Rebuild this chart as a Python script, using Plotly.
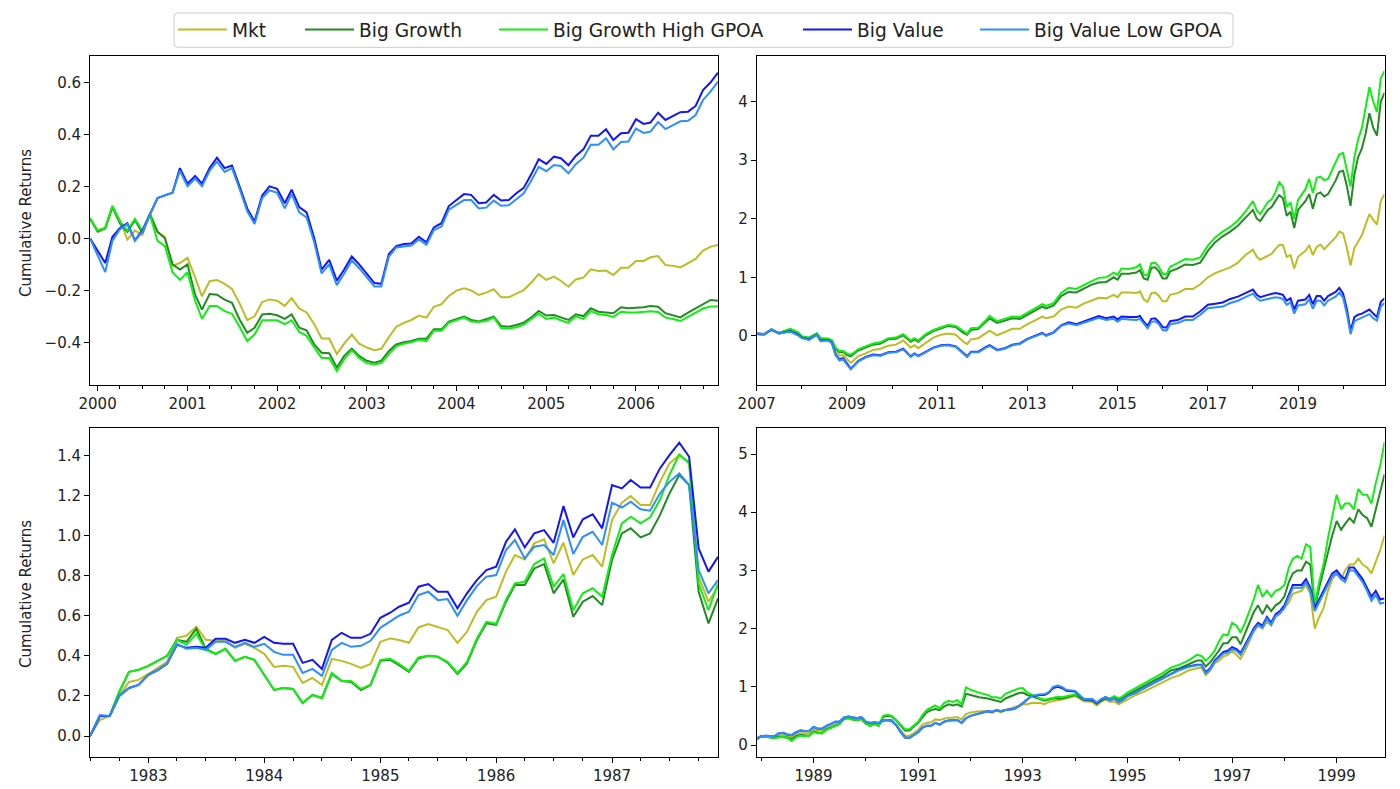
import pandas as pd
import plotly.graph_objects as go

SERIES = ["Mkt", "Big Growth", "Big Growth High GPOA", "Big Value", "Big Value Low GPOA"]
COLORS = ["#bcbd22", "#228b22", "#11ee11", "#1414ff", "#2b8fff"]

# ---------------- Panel 1 (top-left): monthly, 1999-12 .. 2006-12 ----------------
TL_START = "1999-12-01"
TL_MKT = [0.075, 0.03, 0.04, 0.12, 0.07, -0.005, 0.03, 0.013, 0.095, 0.025,
          0.005, -0.105, -0.095, -0.075, -0.15, -0.223, -0.165, -0.16, -0.175, -0.195,
          -0.25, -0.315, -0.3, -0.245, -0.235, -0.24, -0.26, -0.23, -0.27, -0.285,
          -0.33, -0.385, -0.385, -0.445, -0.405, -0.37, -0.405, -0.42, -0.43, -0.425,
          -0.38, -0.34,
          -0.325, -0.314, -0.297, -0.305, -0.263, -0.253, -0.222, -0.201, -0.192, -0.2,
          -0.218, -0.209, -0.196, -0.227, -0.227, -0.212, -0.199, -0.17, -0.138, -0.16,
          -0.147, -0.163, -0.186, -0.158, -0.151, -0.119, -0.126, -0.124, -0.141, -0.113,
          -0.113, -0.087, -0.087, -0.073, -0.068, -0.103, -0.106, -0.112, -0.096, -0.079,
          -0.047, -0.032, -0.026]
TL_BG = [0.077, 0.025, 0.038, 0.12, 0.057, 0.025, 0.07, 0.02, 0.093, 0.025,
         0.0, -0.1, -0.12, -0.1, -0.217, -0.274, -0.214, -0.217, -0.236, -0.248,
         -0.312, -0.363, -0.344, -0.293, -0.29, -0.296, -0.31, -0.293, -0.344, -0.354,
         -0.408, -0.44, -0.442, -0.497, -0.452, -0.424, -0.452, -0.471, -0.478, -0.471,
         -0.433, -0.408,
         -0.4, -0.395, -0.386, -0.386, -0.35, -0.35, -0.32, -0.309, -0.301, -0.314,
         -0.32, -0.311, -0.301, -0.337, -0.34, -0.333, -0.324, -0.304, -0.279, -0.297,
         -0.295, -0.304, -0.314, -0.292, -0.299, -0.269, -0.282, -0.285, -0.288, -0.265,
         -0.269, -0.267, -0.265, -0.26, -0.263, -0.288, -0.295, -0.304, -0.286, -0.269,
         -0.253, -0.237, -0.24]
TL_BGH = [0.077, 0.03, 0.04, 0.125, 0.065, 0.03, 0.075, 0.03, 0.09, -0.01,
          -0.03, -0.13, -0.16, -0.13, -0.24, -0.31, -0.26, -0.26, -0.28, -0.29,
          -0.34, -0.395, -0.37, -0.315, -0.315, -0.315, -0.33, -0.315, -0.36, -0.375,
          -0.42, -0.46, -0.46, -0.51, -0.465, -0.43, -0.46, -0.48, -0.485, -0.48,
          -0.445, -0.415,
          -0.405, -0.4, -0.39, -0.395, -0.355, -0.355, -0.325, -0.315, -0.305, -0.32,
          -0.322, -0.318, -0.305, -0.345, -0.347, -0.342, -0.332, -0.31, -0.29, -0.31,
          -0.305, -0.315, -0.325, -0.3, -0.31, -0.28, -0.292, -0.295, -0.302, -0.282,
          -0.285, -0.285, -0.283, -0.28, -0.283, -0.305, -0.31, -0.318, -0.302, -0.285,
          -0.27, -0.262, -0.262]
TL_BV = [0.0, -0.045, -0.095, 0.005, 0.04, 0.058, -0.008, 0.03, 0.095, 0.155,
         0.165, 0.175, 0.27, 0.21, 0.24, 0.21, 0.27, 0.31, 0.27, 0.28,
         0.2, 0.115, 0.065, 0.165, 0.2, 0.19, 0.135, 0.187, 0.12, 0.1,
         0.0, -0.12, -0.083, -0.163, -0.12, -0.07, -0.1, -0.136, -0.172, -0.175,
         -0.06, -0.03,
         -0.022, -0.02, 0.006, -0.015, 0.042, 0.058, 0.124, 0.147, 0.17, 0.167,
         0.135, 0.138, 0.167, 0.145, 0.147, 0.173, 0.194, 0.247, 0.304, 0.286,
         0.314, 0.308, 0.281, 0.317, 0.342, 0.394, 0.394, 0.419, 0.378, 0.404,
         0.406, 0.458, 0.44, 0.445, 0.483, 0.455, 0.47, 0.485, 0.487, 0.509,
         0.57, 0.6, 0.637]
TL_BVL = [0.0, -0.065, -0.13, -0.01, 0.035, 0.055, -0.01, 0.025, 0.09, 0.155,
          0.165, 0.175, 0.26, 0.2, 0.23, 0.2, 0.26, 0.295, 0.255, 0.27,
          0.19, 0.105, 0.055, 0.155, 0.185, 0.175, 0.115, 0.17, 0.1, 0.08,
          -0.015, -0.135, -0.1, -0.18, -0.135, -0.085, -0.115, -0.15, -0.185, -0.185,
          -0.07, -0.035,
          -0.03, -0.028, -0.004, -0.025, 0.032, 0.045, 0.11, 0.13, 0.147, 0.147,
          0.115, 0.118, 0.145, 0.125, 0.127, 0.15, 0.173, 0.222, 0.275, 0.258,
          0.282, 0.278, 0.25, 0.285, 0.31, 0.36, 0.36, 0.385, 0.342, 0.37,
          0.372, 0.422, 0.405, 0.41, 0.447, 0.42, 0.435, 0.45, 0.452, 0.474,
          0.532, 0.565, 0.603]

# ---------------- Panel 3 (bottom-left): monthly, 1982-07 .. 1987-12 ----------------
BL_START = "1982-07-01"
BL_MKT = [0.0, 0.08, 0.1, 0.2, 0.27, 0.28, 0.31, 0.34, 0.37, 0.49, 0.5, 0.545, 0.48,
          0.475, 0.475, 0.44, 0.46, 0.44, 0.41, 0.345, 0.35, 0.345, 0.265, 0.29, 0.255,
          0.385, 0.375, 0.36, 0.34, 0.36, 0.47, 0.487, 0.479,
          0.465, 0.542, 0.559, 0.545, 0.529, 0.465, 0.52, 0.62, 0.678, 0.695, 0.82,
          0.903, 0.881, 0.961, 0.981, 0.861, 0.964, 0.803, 0.881, 0.903, 0.845, 1.077,
          1.164, 1.197, 1.152, 1.152, 1.268, 1.36, 1.401, 1.368, 0.795, 0.67, 0.745]
BL_BG = [0.0, 0.1, 0.1, 0.22, 0.32, 0.33, 0.35, 0.375, 0.4, 0.48, 0.47, 0.535, 0.435,
         0.41, 0.435, 0.375, 0.395, 0.38, 0.305, 0.23, 0.24, 0.235, 0.165, 0.205, 0.19,
         0.31, 0.275, 0.27, 0.23, 0.255, 0.375, 0.38, 0.354,
         0.32, 0.387, 0.4, 0.396, 0.366, 0.309, 0.362, 0.479, 0.562, 0.554, 0.67,
         0.753, 0.753, 0.836, 0.858, 0.712, 0.781, 0.595, 0.67, 0.698, 0.653, 0.878,
         1.011, 1.036, 0.991, 1.011, 1.102, 1.21, 1.302, 1.252, 0.72, 0.562, 0.687]
BL_BGH = [0.0, 0.1, 0.1, 0.22, 0.32, 0.33, 0.35, 0.375, 0.4, 0.48, 0.455, 0.51, 0.43,
          0.41, 0.435, 0.375, 0.395, 0.38, 0.305, 0.23, 0.24, 0.235, 0.165, 0.205, 0.19,
          0.315, 0.275, 0.275, 0.235, 0.255, 0.38, 0.385, 0.36,
          0.325, 0.392, 0.4, 0.396, 0.37, 0.315, 0.37, 0.485, 0.57, 0.56, 0.68,
          0.761, 0.77, 0.858, 0.886, 0.745, 0.808, 0.628, 0.712, 0.737, 0.695, 0.903,
          1.061, 1.094, 1.061, 1.091, 1.177, 1.302, 1.405, 1.36, 0.761, 0.628, 0.761]
BL_BV = [0.0, 0.1, 0.1, 0.2, 0.24, 0.255, 0.305, 0.33, 0.36, 0.455, 0.44, 0.445, 0.44,
         0.485, 0.485, 0.465, 0.48, 0.465, 0.495, 0.465, 0.46, 0.46, 0.365, 0.38, 0.335,
         0.48, 0.515, 0.49, 0.49, 0.51, 0.59, 0.615, 0.645,
         0.665, 0.745, 0.758, 0.72, 0.72, 0.637, 0.712, 0.778, 0.828, 0.845, 0.969,
         1.031, 0.941, 1.011, 1.027, 0.964, 1.147, 0.991, 1.081, 1.106, 1.036, 1.252,
         1.235, 1.277, 1.24, 1.24, 1.335, 1.401, 1.463, 1.393, 0.936, 0.82, 0.894]
BL_BVL = [0.0, 0.105, 0.1, 0.2, 0.24, 0.255, 0.305, 0.33, 0.36, 0.46, 0.435, 0.44, 0.43,
          0.47, 0.47, 0.445, 0.465, 0.445, 0.46, 0.42, 0.405, 0.405, 0.315, 0.335, 0.3,
          0.43, 0.465, 0.445, 0.45, 0.475, 0.54, 0.57, 0.6,
          0.62, 0.703, 0.72, 0.678, 0.683, 0.6, 0.678, 0.748, 0.795, 0.803, 0.928,
          0.978, 0.886, 0.944, 0.953, 0.903, 1.077, 0.908, 0.994, 1.019, 0.953, 1.164,
          1.14, 1.169, 1.131, 1.124, 1.21, 1.268, 1.31, 1.252, 0.828, 0.712, 0.778]

# ---------------- Panel 2 (top-right): 2007-01 .. 2020-12 ----------------
TR_DATES = ["2007-01", "2007-03", "2007-05", "2007-07", "2007-09", "2007-10", "2007-12",
            "2008-01", "2008-03", "2008-05", "2008-06", "2008-08", "2008-09", "2008-10",
            "2008-11", "2008-12", "2009-01", "2009-02", "2009-03", "2009-04", "2009-06",
            "2009-08", "2009-10", "2009-12", "2010-02", "2010-04", "2010-06", "2010-07",
            "2010-08", "2010-10", "2010-12", "2011-02", "2011-04", "2011-06", "2011-08",
            "2011-09", "2011-10", "2011-12", "2012-02", "2012-03", "2012-05", "2012-07",
            "2012-09", "2012-11", "2013-01", "2013-03", "2013-05", "2013-06", "2013-08",
            "2013-10", "2013-12", "2014-02", "2014-04", "2014-06", "2014-08", "2014-10",
            "2014-12", "2015-01", "2015-02", "2015-04", "2015-06", "2015-07", "2015-08",
            "2015-09", "2015-10", "2015-11", "2015-12", "2016-01", "2016-02", "2016-03",
            "2016-05", "2016-07", "2016-09", "2016-11", "2017-01", "2017-03", "2017-05",
            "2017-07", "2017-09", "2017-11", "2018-01", "2018-02", "2018-03", "2018-05",
            "2018-06", "2018-07", "2018-08", "2018-09", "2018-10", "2018-11", "2018-12",
            "2019-01", "2019-03", "2019-04", "2019-05", "2019-06", "2019-07", "2019-08",
            "2019-09", "2019-11", "2019-12", "2020-01", "2020-02", "2020-03", "2020-04",
            "2020-05", "2020-06", "2020-07", "2020-08", "2020-09", "2020-10", "2020-11",
            "2020-12"]
TR_BV = [0.04, 0.03, 0.11, 0.04, 0.07, 0.08, 0.02, -0.03, -0.06, 0.02, -0.08, -0.07, -0.12,
         -0.32, -0.4, -0.38, -0.47, -0.56, -0.5, -0.43, -0.36, -0.32, -0.33, -0.28, -0.27,
         -0.22, -0.35, -0.3, -0.34, -0.27, -0.2, -0.16, -0.15, -0.18, -0.3, -0.35, -0.27,
         -0.27, -0.19, -0.16, -0.24, -0.21, -0.15, -0.13, -0.05, 0.0, 0.05, 0.01, 0.06,
         0.18, 0.23, 0.2, 0.25, 0.3, 0.34, 0.3, 0.33, 0.28, 0.33, 0.32, 0.32, 0.34, 0.24,
         0.17, 0.29, 0.3, 0.24, 0.15, 0.14, 0.25, 0.27, 0.33, 0.33, 0.42, 0.53, 0.55, 0.57,
         0.63, 0.67, 0.73, 0.79, 0.7, 0.66, 0.7, 0.72, 0.73, 0.72, 0.7, 0.6, 0.64, 0.45,
         0.6, 0.62, 0.7, 0.54, 0.68, 0.68, 0.6, 0.68, 0.75, 0.82, 0.72, 0.45, 0.08, 0.32,
         0.36, 0.38, 0.42, 0.45, 0.38, 0.32, 0.58, 0.64]
TR_BVL = [0.04, 0.03, 0.11, 0.04, 0.06, 0.07, 0.01, -0.04, -0.07, 0.02, -0.09, -0.08, -0.13,
          -0.33, -0.42, -0.4, -0.49, -0.57, -0.51, -0.44, -0.37, -0.33, -0.34, -0.29, -0.28,
          -0.23, -0.36, -0.31, -0.35, -0.28, -0.21, -0.17, -0.16, -0.19, -0.31, -0.36, -0.28,
          -0.28, -0.2, -0.17, -0.25, -0.22, -0.16, -0.14, -0.06, -0.01, 0.04, 0.0, 0.05,
          0.17, 0.21, 0.18, 0.22, 0.27, 0.31, 0.27, 0.29, 0.24, 0.29, 0.28, 0.27, 0.29, 0.2,
          0.13, 0.24, 0.25, 0.2, 0.1, 0.09, 0.2, 0.22, 0.27, 0.27, 0.36, 0.47, 0.49, 0.5,
          0.56, 0.6, 0.66, 0.72, 0.64, 0.6, 0.63, 0.64, 0.66, 0.65, 0.63, 0.53, 0.57, 0.38,
          0.52, 0.54, 0.62, 0.46, 0.6, 0.6, 0.52, 0.6, 0.67, 0.74, 0.65, 0.37, 0.03, 0.25,
          0.28, 0.3, 0.34, 0.37, 0.3, 0.26, 0.5, 0.56]
TR_MKT = [0.03, 0.02, 0.1, 0.04, 0.08, 0.1, 0.04, -0.02, -0.04, 0.03, -0.06, -0.06, -0.1,
          -0.27, -0.34, -0.33, -0.4, -0.46, -0.41, -0.35, -0.3, -0.24, -0.22, -0.17, -0.15,
          -0.08, -0.2, -0.16, -0.21, -0.12, -0.03, 0.02, 0.04, 0.02, -0.1, -0.14, -0.06,
          -0.04, 0.05, 0.09, 0.01, 0.06, 0.12, 0.12, 0.2, 0.26, 0.33, 0.3, 0.33, 0.45, 0.5,
          0.48, 0.55, 0.6, 0.65, 0.64, 0.7, 0.66, 0.74, 0.74, 0.73, 0.76, 0.62, 0.58, 0.73,
          0.74, 0.68, 0.59, 0.59, 0.7, 0.73, 0.8, 0.8, 0.88, 1.0, 1.07, 1.12, 1.17, 1.25,
          1.38, 1.47, 1.35, 1.3, 1.37, 1.4, 1.48, 1.55, 1.55, 1.35, 1.38, 1.15, 1.35, 1.45,
          1.55, 1.38, 1.52, 1.56, 1.48, 1.55, 1.68, 1.78, 1.75, 1.5, 1.2, 1.5, 1.62, 1.72,
          1.9, 2.08, 1.98, 1.9, 2.3, 2.42]
TR_BG = [0.03, 0.02, 0.1, 0.05, 0.09, 0.11, 0.06, -0.01, -0.03, 0.04, -0.05, -0.05, -0.08,
         -0.22, -0.28, -0.27, -0.33, -0.35, -0.3, -0.25, -0.2, -0.15, -0.13, -0.06, -0.05,
         0.01, -0.1, -0.06, -0.1, 0.01, 0.08, 0.13, 0.17, 0.15, 0.05, 0.02, 0.1, 0.12, 0.24,
         0.3, 0.22, 0.26, 0.3, 0.29, 0.36, 0.43, 0.5, 0.47, 0.52, 0.68, 0.75, 0.74, 0.8,
         0.87, 0.91, 0.92, 1.0, 0.96, 1.06, 1.06, 1.08, 1.12, 0.98, 0.96, 1.16, 1.17, 1.1,
         0.98, 0.98, 1.1, 1.15, 1.22, 1.21, 1.25, 1.45, 1.6, 1.7, 1.78, 1.88, 2.02, 2.15,
         2.0, 1.96, 2.15, 2.2, 2.3, 2.4, 2.35, 2.05, 2.12, 1.84, 2.15, 2.3, 2.42, 2.17,
         2.42, 2.45, 2.38, 2.42, 2.65, 2.8, 2.82, 2.55, 2.22, 2.75, 3.05, 3.2, 3.45, 3.8,
         3.55, 3.42, 4.0, 4.15]
TR_BGH = [0.03, 0.02, 0.11, 0.05, 0.1, 0.12, 0.06, -0.01, -0.03, 0.04, -0.04, -0.05, -0.08,
          -0.2, -0.26, -0.26, -0.3, -0.32, -0.28, -0.23, -0.18, -0.13, -0.11, -0.04, -0.03,
          0.03, -0.08, -0.04, -0.08, 0.03, 0.1, 0.15, 0.19, 0.17, 0.08, 0.04, 0.13, 0.14,
          0.27, 0.34, 0.25, 0.29, 0.33, 0.32, 0.39, 0.46, 0.54, 0.51, 0.56, 0.73, 0.82, 0.8,
          0.87, 0.93, 0.99, 1.0, 1.08, 1.04, 1.15, 1.14, 1.17, 1.22, 1.05, 1.03, 1.24, 1.25,
          1.18, 1.06, 1.05, 1.18, 1.24, 1.31, 1.3, 1.34, 1.54, 1.68, 1.78, 1.86, 1.97, 2.12,
          2.3, 2.14, 2.08, 2.28, 2.33, 2.45, 2.62, 2.55, 2.2, 2.28, 2.0, 2.32, 2.5, 2.68,
          2.44, 2.7, 2.72, 2.66, 2.68, 2.96, 3.1, 3.12, 2.85, 2.55, 3.05, 3.35, 3.55, 3.9,
          4.25, 4.0, 3.82, 4.4, 4.52]

# ---------------- Panel 4 (bottom-right): 1987-12 .. 1999-12 ----------------
BR_DATES = ["1987-12", "1988-01", "1988-02", "1988-04", "1988-05", "1988-06", "1988-07",
            "1988-08", "1988-09", "1988-10", "1988-11", "1988-12", "1989-01", "1989-02",
            "1989-03", "1989-04", "1989-05", "1989-06", "1989-07", "1989-08", "1989-09",
            "1989-10", "1989-11", "1989-12", "1990-01", "1990-02", "1990-03", "1990-04",
            "1990-05", "1990-06", "1990-07", "1990-08", "1990-09", "1990-10", "1990-11",
            "1990-12", "1991-01", "1991-02", "1991-03", "1991-04", "1991-05", "1991-06",
            "1991-07", "1991-08", "1991-09", "1991-10", "1991-11", "1991-12", "1992-01",
            "1992-03", "1992-05", "1992-06", "1992-07", "1992-08", "1992-09", "1992-11",
            "1992-12", "1993-01", "1993-02", "1993-03", "1993-05", "1993-06", "1993-07",
            "1993-08", "1993-09", "1993-10", "1993-11", "1994-01", "1994-02", "1994-03",
            "1994-05", "1994-06", "1994-07", "1994-08", "1994-09", "1994-10", "1994-11",
            "1994-12", "1995-01", "1995-03", "1995-05", "1995-07", "1995-09", "1995-11",
            "1996-01", "1996-03", "1996-05", "1996-06", "1996-07", "1996-08", "1996-09",
            "1996-10", "1996-11", "1996-12", "1997-01", "1997-02", "1997-03", "1997-04",
            "1997-05", "1997-06", "1997-07", "1997-08", "1997-09", "1997-10", "1997-11",
            "1997-12", "1998-01", "1998-02", "1998-03", "1998-04", "1998-05", "1998-06",
            "1998-07", "1998-08", "1998-09", "1998-10", "1998-11", "1998-12", "1999-01",
            "1999-02", "1999-03", "1999-04", "1999-05", "1999-06", "1999-07", "1999-08",
            "1999-09", "1999-10", "1999-11", "1999-12"]
BR_BV = [0.1, 0.15, 0.16, 0.15, 0.2, 0.21, 0.18, 0.17, 0.22, 0.25, 0.24, 0.24, 0.31, 0.28,
         0.28, 0.33, 0.36, 0.4, 0.4, 0.47, 0.49, 0.47, 0.46, 0.48, 0.4, 0.38, 0.39, 0.38,
         0.42, 0.43, 0.42, 0.34, 0.22, 0.13, 0.12, 0.17, 0.22, 0.3, 0.33, 0.33, 0.38, 0.35,
         0.4, 0.42, 0.42, 0.43, 0.38, 0.46, 0.5, 0.54, 0.58, 0.57, 0.6, 0.58, 0.6, 0.62,
         0.66, 0.72, 0.78, 0.84, 0.86, 0.86, 0.9, 0.98, 1.0, 0.98, 0.93, 0.92, 0.85, 0.78,
         0.78, 0.72, 0.78, 0.82, 0.77, 0.8, 0.74, 0.78, 0.84, 0.9, 0.98, 1.06, 1.15, 1.22,
         1.3, 1.35, 1.38, 1.38, 1.25, 1.32, 1.45, 1.52, 1.6, 1.62, 1.68, 1.65, 1.58, 1.72,
         1.85, 2.0, 2.1, 2.05, 2.2, 2.1, 2.25, 2.3, 2.4, 2.6, 2.75, 2.75, 2.75, 2.85, 2.7,
         2.35, 2.5, 2.65, 2.8, 2.95, 3.0, 2.9, 2.85, 3.05, 3.05, 2.95, 2.85, 2.7, 2.55, 2.65,
         2.5, 2.52]
BR_BVL = [0.1, 0.15, 0.16, 0.15, 0.2, 0.21, 0.18, 0.17, 0.22, 0.25, 0.24, 0.24, 0.31, 0.28,
          0.28, 0.33, 0.36, 0.4, 0.4, 0.47, 0.49, 0.47, 0.46, 0.48, 0.4, 0.38, 0.39, 0.38,
          0.42, 0.43, 0.42, 0.34, 0.22, 0.13, 0.12, 0.17, 0.22, 0.3, 0.33, 0.33, 0.38, 0.35,
          0.4, 0.42, 0.42, 0.43, 0.38, 0.46, 0.5, 0.54, 0.58, 0.57, 0.6, 0.58, 0.6, 0.62,
          0.66, 0.72, 0.78, 0.84, 0.87, 0.87, 0.91, 1.0, 1.02, 1.0, 0.95, 0.93, 0.86, 0.79,
          0.79, 0.73, 0.79, 0.82, 0.77, 0.8, 0.74, 0.78, 0.84, 0.9, 0.98, 1.06, 1.14, 1.21,
          1.29, 1.34, 1.37, 1.37, 1.23, 1.3, 1.43, 1.5, 1.57, 1.59, 1.65, 1.62, 1.55, 1.69,
          1.82, 1.97, 2.07, 2.02, 2.17, 2.07, 2.22, 2.27, 2.36, 2.55, 2.7, 2.7, 2.7, 2.8, 2.65,
          2.3, 2.45, 2.6, 2.75, 2.9, 2.95, 2.85, 2.8, 3.0, 3.0, 2.9, 2.8, 2.65, 2.48, 2.58,
          2.43, 2.45]
BR_MKT = [0.12, 0.16, 0.15, 0.14, 0.17, 0.17, 0.15, 0.14, 0.18, 0.2, 0.2, 0.2, 0.26, 0.25,
          0.24, 0.29, 0.31, 0.36, 0.38, 0.44, 0.45, 0.43, 0.42, 0.44, 0.36, 0.36, 0.37, 0.35,
          0.42, 0.42, 0.4, 0.35, 0.25, 0.16, 0.16, 0.2, 0.26, 0.35, 0.38, 0.39, 0.44, 0.43,
          0.45, 0.47, 0.47, 0.48, 0.44, 0.53, 0.56, 0.58, 0.58, 0.55, 0.59, 0.56, 0.6, 0.65,
          0.67, 0.7, 0.7, 0.72, 0.72, 0.7, 0.74, 0.76, 0.77, 0.78, 0.8, 0.84, 0.8, 0.75,
          0.74, 0.68, 0.74, 0.78, 0.74, 0.75, 0.7, 0.74, 0.78, 0.86, 0.92, 1.0, 1.08, 1.15,
          1.2, 1.28, 1.32, 1.33, 1.2, 1.28, 1.4, 1.45, 1.52, 1.55, 1.62, 1.55, 1.48, 1.62,
          1.78, 1.95, 2.05, 2.0, 2.12, 2.05, 2.2, 2.25, 2.35, 2.45, 2.6, 2.62, 2.65, 2.75, 2.6,
          2.0, 2.2, 2.35, 2.65, 2.85, 2.95, 2.85, 3.0, 3.1, 3.1, 3.2, 3.1, 3.05, 2.95, 3.15,
          3.35, 3.6]
BR_BG = [0.1, 0.15, 0.14, 0.12, 0.14, 0.14, 0.13, 0.1, 0.15, 0.17, 0.16, 0.16, 0.23, 0.21,
         0.2, 0.27, 0.3, 0.34, 0.36, 0.45, 0.47, 0.44, 0.43, 0.45, 0.37, 0.33, 0.36, 0.33,
         0.48, 0.5, 0.49, 0.42, 0.33, 0.25, 0.25, 0.31, 0.38, 0.48, 0.56, 0.6, 0.62, 0.6,
         0.66, 0.7, 0.68, 0.7, 0.66, 0.88, 0.86, 0.82, 0.8, 0.78, 0.76, 0.74, 0.8, 0.86,
         0.89, 0.9, 0.86, 0.84, 0.78, 0.76, 0.78, 0.8, 0.8, 0.8, 0.82, 0.86, 0.82, 0.78,
         0.76, 0.71, 0.76, 0.8, 0.78, 0.82, 0.78, 0.82, 0.87, 0.95, 1.02, 1.1, 1.18, 1.28,
         1.32, 1.38, 1.45, 1.45, 1.35, 1.42, 1.52, 1.62, 1.75, 1.75, 1.85, 1.85, 1.73, 1.92,
         2.1, 2.28, 2.4, 2.25, 2.4, 2.3, 2.4, 2.45, 2.55, 2.8, 2.95, 3.0, 3.0, 3.15, 3.1,
         2.35, 2.7, 3.0, 3.35, 3.6, 3.85, 3.7, 3.8, 3.9, 3.82, 4.05, 3.95, 3.9, 3.75, 4.05,
         4.35, 4.65]
BR_BGH = [0.1, 0.15, 0.14, 0.12, 0.13, 0.14, 0.12, 0.07, 0.13, 0.16, 0.15, 0.16, 0.22, 0.2,
          0.2, 0.26, 0.29, 0.33, 0.36, 0.45, 0.47, 0.44, 0.43, 0.45, 0.37, 0.33, 0.36, 0.33,
          0.5, 0.52, 0.5, 0.43, 0.35, 0.27, 0.27, 0.33, 0.4, 0.52, 0.6, 0.64, 0.68, 0.63,
          0.72, 0.76, 0.74, 0.77, 0.7, 0.99, 0.95, 0.9, 0.86, 0.82, 0.82, 0.8, 0.88, 0.94,
          0.97, 0.98, 0.9, 0.87, 0.8, 0.78, 0.8, 0.82, 0.83, 0.82, 0.84, 0.87, 0.84, 0.8,
          0.78, 0.72, 0.78, 0.82, 0.8, 0.84, 0.8, 0.84, 0.9, 0.98, 1.06, 1.15, 1.23, 1.33,
          1.38, 1.45, 1.55, 1.53, 1.45, 1.52, 1.62, 1.78, 1.9, 1.88, 2.1, 2.05, 1.93, 2.1,
          2.3, 2.5, 2.75, 2.55, 2.65, 2.55, 2.65, 2.68, 2.75, 3.05, 3.2, 3.25, 3.2, 3.45, 3.4,
          2.4, 2.8, 3.1, 3.55, 3.95, 4.3, 4.05, 4.15, 4.15, 4.05, 4.4, 4.3, 4.3, 4.15, 4.5,
          4.8, 5.2]

Y_TITLE = "Cumulative Returns"
FONT = "DejaVu Sans"
TICK_COLOR = "#222222"
TICK_SIZE = 15

tl_dates = pd.date_range(TL_START, periods=len(TL_MKT), freq="MS")
bl_dates = pd.date_range(BL_START, periods=len(BL_MKT), freq="MS")
tr_dates = pd.to_datetime(TR_DATES)
br_dates = pd.to_datetime(BR_DATES)

panels = [
    (tl_dates, [TL_MKT, TL_BG, TL_BGH, TL_BV, TL_BVL], "x", "y"),
    (tr_dates, [TR_MKT, TR_BG, TR_BGH, TR_BV, TR_BVL], "x2", "y2"),
    (bl_dates, [BL_MKT, BL_BG, BL_BGH, BL_BV, BL_BVL], "x3", "y3"),
    (br_dates, [BR_MKT, BR_BG, BR_BGH, BR_BV, BR_BVL], "x4", "y4"),
]

fig = go.Figure()
legend_names = ["legend", "legend2", "legend3", "legend4", "legend5"]
for p, (dates, series, xa, ya) in enumerate(panels):
    for i, vals in enumerate(series):
        fig.add_trace(go.Scatter(
            x=dates, y=vals, mode="lines", name=SERIES[i],
            line=dict(color=COLORS[i], width=2),
            xaxis=xa, yaxis=ya,
            showlegend=(p == 0), legend=legend_names[i],
            hoverinfo="skip",
        ))

W, H = 1400, 789


def xd(a, b):
    return [a / W, b / W]


def yd(top, bottom):
    return [1 - bottom / H, 1 - top / H]


def xax(domain, rng, dtick, tick0, minor_dtick, anchor):
    return dict(
        domain=domain, range=rng, type="date", anchor=anchor, automargin=False,
        dtick=dtick, tick0=tick0, tickformat="%Y",
        showline=True, mirror=True, linecolor="#000000", linewidth=1,
        ticks="outside", ticklen=5, tickwidth=1, tickcolor="#000000",
        showgrid=False, zeroline=False,
        tickfont=dict(family=FONT, size=TICK_SIZE, color=TICK_COLOR),
        minor=dict(dtick=minor_dtick, tick0=tick0, ticks="outside", ticklen=3,
                   tickwidth=1, tickcolor="#000000", showgrid=False),
    )


def yax(domain, rng, dtick, fmt, anchor):
    return dict(
        domain=domain, range=rng, anchor=anchor, automargin=False,
        dtick=dtick, tick0=0, tickformat=fmt,
        showline=True, mirror=True, linecolor="#000000", linewidth=1,
        ticks="outside", ticklen=5, tickwidth=1, tickcolor="#000000",
        showgrid=False, zeroline=False,
        tickfont=dict(family=FONT, size=TICK_SIZE, color=TICK_COLOR),
    )


TOP = (56, 385)
BOT = (428.3, 756.7)
LEFT = (90, 718)
RIGHT = (756.7, 1384.5)

layout = dict(
    width=W, height=H,
    margin=dict(l=0, r=0, t=0, b=0, autoexpand=False),
    paper_bgcolor="white", plot_bgcolor="white",
    font=dict(family=FONT, color=TICK_COLOR),
    xaxis=xax(xd(*LEFT), ["1999-12-01", "2006-12-01"], "M12", "2000-01-01", "M3", "y"),
    yaxis=yax(yd(*TOP), [-0.564, 0.701], 0.2, ".1f", "x"),
    xaxis2=xax(xd(*RIGHT), ["2007-01-01", "2020-12-01"], "M24", "2007-01-01", "M12", "y2"),
    yaxis2=yax(yd(*TOP), [-0.839, 4.778], 1, "d", "x2"),
    xaxis3=xax(xd(*LEFT), ["1982-07-01", "1987-12-01"], "M12", "1983-01-01", "M3", "y3"),
    yaxis3=yax(yd(*BOT), [-0.103, 1.535], 0.2, ".1f", "x3"),
    xaxis4=xax(xd(*RIGHT), ["1987-12-01", "1999-12-01"], "M24", "1989-01-01", "M12", "y4"),
    yaxis4=yax(yd(*BOT), [-0.201, 5.442], 1, "d", "x4"),
    hovermode=False,
)

# y-axis titles of the left-hand panels
layout["annotations"] = [
    dict(text=Y_TITLE, textangle=-90, xref="paper", yref="paper",
         x=26 / W, y=1 - yc / H, xanchor="center", yanchor="middle", showarrow=False,
         font=dict(family=FONT, size=TICK_SIZE, color=TICK_COLOR))
    for yc in (223, 594)
]

# legend entries placed individually across the top
LEG_X = [173, 300, 494, 798, 975]
for name, x0 in zip(legend_names, LEG_X):
    layout[name] = dict(
        x=x0 / W, y=1 - 30 / H, xanchor="left", yanchor="middle",
        orientation="h", bgcolor="rgba(0,0,0,0)", borderwidth=0,
        font=dict(family=FONT, size=18.6, color=TICK_COLOR), itemwidth=49,
    )

# rounded legend frame
x0, x1 = 174 / W, 1233 / W
y0, y1 = 1 - 47.3 / H, 1 - 13 / H
rx, ry = 4 / W, 4 / H
frame_path = (f"M{x0 + rx},{y1} L{x1 - rx},{y1} Q{x1},{y1} {x1},{y1 - ry} "
              f"L{x1},{y0 + ry} Q{x1},{y0} {x1 - rx},{y0} L{x0 + rx},{y0} "
              f"Q{x0},{y0} {x0},{y0 + ry} L{x0},{y1 - ry} Q{x0},{y1} {x0 + rx},{y1} Z")
layout["shapes"] = [dict(
    type="path", path=frame_path, xref="paper", yref="paper",
    line=dict(color="#cccccc", width=1), fillcolor="rgba(255,255,255,0)", layer="below",
)]

fig.update_layout(**layout)
fig.write_html("out.html")
